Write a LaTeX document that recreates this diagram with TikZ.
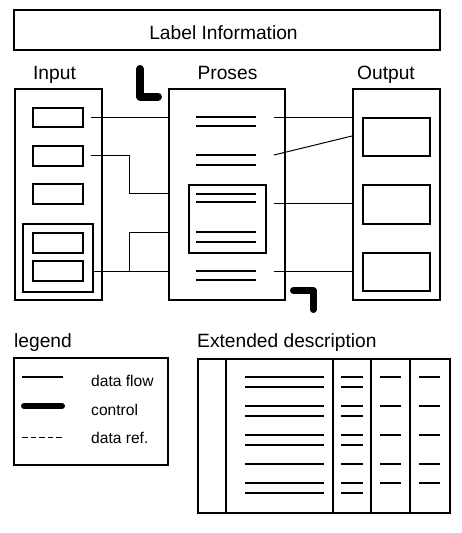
\documentclass[tikz,border=0pt]{standalone}
\usepackage{fontspec}
\setmainfont{Liberation Sans}
\begin{document}
\begin{tikzpicture}[x=1pt,y=-1pt,
  box/.style={draw, line width=2pt, inner sep=0pt, anchor=north west},
  flow/.style={line width=1pt},
  ctrl/.style={line width=#1, line cap=round, line join=round},
  txtline/.style={line width=2pt},
  head/.style={font=\fontsize{19.2}{23}\selectfont, inner sep=0pt, anchor=base},
  headw/.style={font=\fontsize{19.2}{23}\selectfont, inner sep=0pt, anchor=base west},
  item/.style={font=\fontsize{15.6}{18}\selectfont, inner sep=0pt, anchor=base west}]
\useasboundingbox (0,0) rectangle (462,533);

% title
\node[box, minimum width=426pt, minimum height=40pt] (titlebox) at (13,9) {};
\node[head] (title) at (223.5,39.5) {Label Information};

% headings
\node[head] (hin) at (54.5,79) {Input};
\node[head] (hpro) at (227.5,79) {Proses};
\node[head] (hout) at (386,79) {Output};

% input
\node[box, minimum width=87pt, minimum height=211pt] (inp) at (14,88) {};
\node[box, minimum width=50pt, minimum height=19pt] (in1) at (32,107) {};
\node[box, minimum width=50pt, minimum height=20pt] (in2) at (32,145) {};
\node[box, minimum width=50pt, minimum height=20pt] (in3) at (32,183) {};
\node[box, minimum width=70pt, minimum height=68pt] (grp) at (22,223) {};
\node[box, minimum width=50pt, minimum height=20pt] (in4) at (32,232) {};
\node[box, minimum width=50pt, minimum height=20pt] (in5) at (32,260) {};

% proses
\node[box, minimum width=116pt, minimum height=211pt] (pro) at (168,88) {};
\node[box, minimum width=77pt, minimum height=68pt] (pin) at (188,184) {};
\foreach \y in {117,126,155,165,194,202,232,242,271,280}
  \draw[txtline] (196,\y) -- (256,\y);

% output
\node[box, minimum width=87pt, minimum height=211pt] (out) at (352,88) {};
\node[box, minimum width=67pt, minimum height=38pt] (out1) at (362,117) {};
\node[box, minimum width=67pt, minimum height=39pt] (out2) at (362,184) {};
\node[box, minimum width=67pt, minimum height=38pt] (out3) at (362,252) {};

% connectors input -> proses
\coordinate (a1) at (91,117);
\draw[flow] (a1) -- (a1 -| pro.west);
\coordinate (a2) at (91,155);
\coordinate (j2) at (129,193);
\draw[flow] (a2) -| (j2) -- (j2 -| pro.west);
\coordinate (a3) at (92,271);
\draw[flow] (a3) -- (a3 -| pro.west);
\coordinate (b3) at (129,271);
\coordinate (j3) at (129,232);
\draw[flow] (b3) -- (j3) -- (j3 -| pro.west);

% connectors proses -> output
\coordinate (p1) at (274,117);
\draw[flow] (p1) -- (p1 -| out.west);
\coordinate (p2) at (274,155);
\coordinate (q2) at (352,136);
\draw[flow] (p2) -- (q2);
\coordinate (p3) at (274,203);
\draw[flow] (p3) -- (p3 -| out.west);
\coordinate (p4) at (274,271);
\draw[flow] (p4) -- (p4 -| out.west);

% control marks
\draw[ctrl=8pt] (140,69) -- (140,96.5) -- (158,96.5);
\draw[ctrl=7pt] (293.5,290.5) -- (313,290.5) -- (313,309.5);

% legend
\node[headw] (hleg) at (14,347) {legend};
\node[box, minimum width=154pt, minimum height=107pt] (leg) at (13,357) {};
\draw[line width=1.3pt] (22,377) -- (63,377);
\node[item] (l1) at (91,386) {data flow};
\draw[ctrl=6pt] (24,406) -- (62,406);
\node[item] (l2) at (91,415) {control};
\draw[line width=0.8pt, dash pattern=on 5.5pt off 3pt] (22,437) -- (63,437);
\node[item] (l3) at (91,443) {data ref.};

% extended description
\node[headw] (hext) at (197,347) {Extended description};
\node[box, minimum width=252pt, minimum height=154pt] (ext) at (197,358) {};
\foreach \x in {226,333,371,410}
  \draw[line width=2pt] (\x,358) -- (\x,514);
\foreach \y in {377,387,406,416,435,445,464,483,493} {
  \draw[txtline] (245,\y) -- (324,\y);
  \draw[txtline] (341,\y) -- (363,\y);
}
\foreach \y in {377,406,435,464,483} {
  \draw[txtline] (380,\y) -- (401,\y);
  \draw[txtline] (419,\y) -- (440,\y);
}
\end{tikzpicture}
\end{document}
